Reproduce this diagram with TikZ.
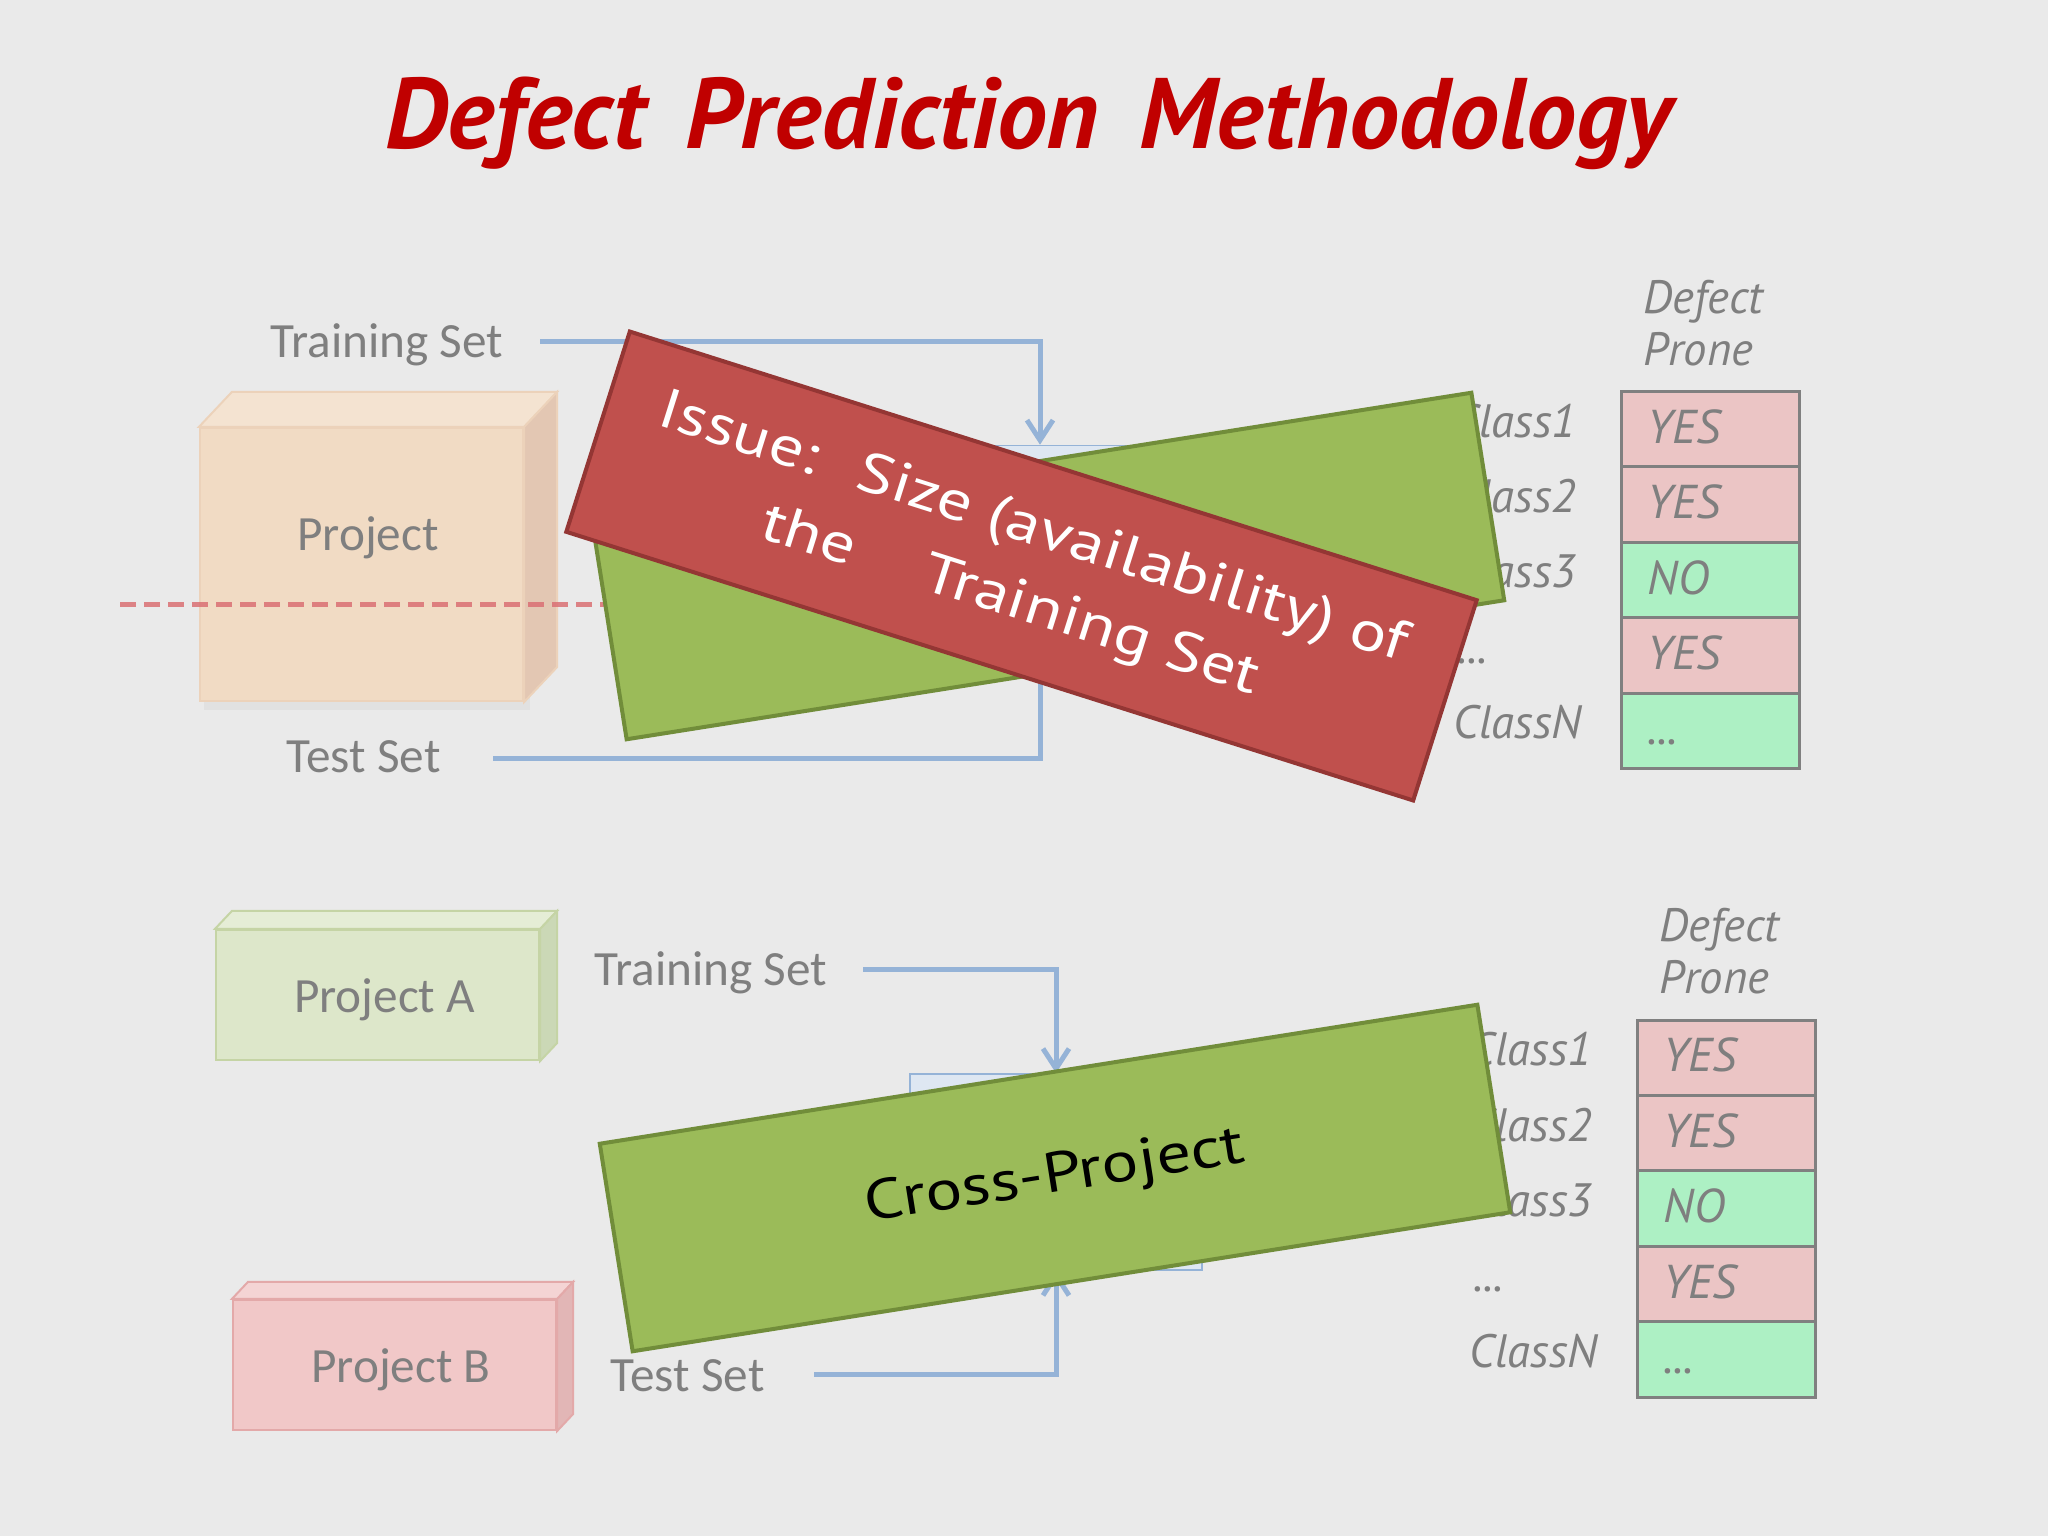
\documentclass[tikz,border=0pt]{standalone}
\usepackage{fontspec}
\setmainfont{Carlito}
\newfontfamily\hand{PT Sans}
\newfontfamily\handwide[FakeStretch=1.22]{PT Sans}
\usetikzlibrary{arrows.meta}
\definecolor{bgc}{RGB}{234,234,234}
\definecolor{txtgray}{RGB}{127,127,127}
\definecolor{titlered}{RGB}{192,0,0}
\definecolor{lineblue}{RGB}{149,179,215}
\definecolor{modelfill}{RGB}{222,231,242}
\definecolor{greenfill}{RGB}{155,187,89}
\definecolor{greenedge}{RGB}{113,141,58}
\definecolor{redfill}{RGB}{192,80,77}
\definecolor{rededge}{RGB}{148,54,52}
\definecolor{cellpink}{RGB}{235,197,197}
\definecolor{cellgreen}{RGB}{173,240,196}
\definecolor{celledge}{RGB}{128,128,128}
\definecolor{dashred}{RGB}{218,112,116}
\definecolor{projfront}{RGB}{241,219,196}
\definecolor{projtop}{RGB}{244,227,209}
\definecolor{projside}{RGB}{227,199,179}
\definecolor{projedge}{RGB}{236,210,186}
\definecolor{pafront}{RGB}{221,231,202}
\definecolor{patop}{RGB}{229,237,214}
\definecolor{paside}{RGB}{203,216,182}
\definecolor{paedge}{RGB}{197,212,165}
\definecolor{pbfront}{RGB}{241,200,200}
\definecolor{pbtop}{RGB}{244,212,212}
\definecolor{pbside}{RGB}{226,182,182}
\definecolor{pbedge}{RGB}{227,169,169}
\tikzset{
  lbl/.style={font=\fontsize{14}{16}\selectfont, text=txtgray, inner sep=0pt},
  hlbl/.style={font=\hand\itshape\fontsize{13.3}{15}\selectfont, text=txtgray, inner sep=0pt},
  conn/.style={draw=lineblue, line width=0.05cm},
  arr/.style={conn, -{Straight Barb[length=0.2cm,width=0.26cm]}},
  cutline/.style={draw=dashred, line width=0.05cm, dash pattern=on 0.16cm off 0.08cm, opacity=0.85},
  modelbox/.style={draw=lineblue, fill=modelfill, line width=0.015cm, minimum width=2.92cm, minimum height=1.97cm, inner sep=0pt},
  banner/.style={minimum width=8.88cm, minimum height=2.1cm, inner sep=0pt, line width=0.04cm},
  greenbanner/.style={banner, fill=greenfill, draw=greenedge, rotate=9},
  redbanner/.style={banner, fill=redfill, draw=rededge, rotate=-17.6},
  front/.style={inner sep=0pt, line width=0.02cm, minimum width=3.23cm},
  facepath/.style={line width=0.02cm},
  cellbox/.style={draw=celledge, line width=0.03cm, minimum width=1.78cm, minimum height=0.754cm,
    inner xsep=0.26cm, inner ysep=0pt, text width=1.26cm, align=left, text height=0.34cm, text depth=0.06cm,
    font=\hand\itshape\fontsize{13.5}{15}\selectfont, text=txtgray, anchor=north west},
}
\newcommand\dtable[3]{%
\begin{scope}[shift={(#1,#2)}]
  \node[hlbl, anchor=base west] (#3h1) at (1643,313) {Defect};
  \node[hlbl, anchor=base west] (#3h2) at (1643,365) {Prone};
  \node[hlbl, anchor=base west] (#3c1) at (1453,437) {Class1};
  \node[hlbl, anchor=base west] (#3c2) at (1453,512.4) {Class2};
  \node[hlbl, anchor=base west] (#3c3) at (1453,587.8) {Class3};
  \node[hlbl, anchor=base west] (#3c4) at (1457,663.2) {...};
  \node[hlbl, anchor=base west] (#3c5) at (1453,738.6) {ClassN};
  \node[cellbox, fill=cellpink] (#3v1) at (1620,390) {YES};
  \node[cellbox, fill=cellpink] (#3v2) at (1620,465.4) {YES};
  \node[cellbox, fill=cellgreen] (#3v3) at (1620,540.8) {NO};
  \node[cellbox, fill=cellpink] (#3v4) at (1620,616.2) {YES};
  \node[cellbox, fill=cellgreen] (#3v5) at (1620,691.6) {...};
\end{scope}}
\begin{document}
\begin{tikzpicture}[x=0.01cm,y=-0.01cm]
\fill[bgc] (0,0) rectangle (2048,1536);
\useasboundingbox (0,0) rectangle (2048,1536);

% title
\node[font=\hand\bfseries\itshape\fontsize{28.5}{32}\selectfont, text=titlered, anchor=base, inner sep=0pt]
  (title) at (1029,148) {Defect\hspace{0.15em} Prediction\hspace{0.15em} Methodology};

% ================= top section =================
\node[modelbox] (modelA) at (1040,544) {};
\coordinate (trainAs) at (540,341);
\coordinate (testAs) at (493,758);
\draw[arr] (trainAs) -| (modelA.north);
\draw[arr] (testAs) -| (modelA.south);

% project cuboid
\fill[black, opacity=0.035] (204,436) rectangle (530,710);
\node[front, fill=projfront, draw=projedge, minimum height=2.73cm] (proj) at (361.5,564.5) {};
\filldraw[facepath, fill=projtop, draw=projedge] (proj.north west) -- ++(33,-35) -- ([shift={(33,-35)}]proj.north east) -- (proj.north east) -- cycle;
\filldraw[facepath, fill=projside, draw=projedge] (proj.north east) -- ++(33,-35) -- ([shift={(33,-35)}]proj.south east) -- (proj.south east) -- cycle;
\node[lbl, anchor=base] (projtxt) at (368,550) {Project};

\coordinate (cutL) at (120,604);
\coordinate (cutR) at (660,604);
\draw[cutline] (cutL) -- (cutR);

\node[lbl, anchor=base west] (trainA) at (270,357) {Training Set};
\node[lbl, anchor=base west] (testA) at (286,772) {Test Set};

\dtable{0}{0}{ta}

\node[greenbanner] (wp) at (1049,566) {};
\node[redbanner, align=center, text=white, font=\handwide\fontsize{16}{21.6}\selectfont]
  (issue) at (1021.5,566) {Issue:~ Size (availability) of\\the~~~ Training Set};

% ================= bottom section =================
\node[modelbox, minimum height=1.96cm] (modelB) at (1056,1172) {};
\coordinate (trainBs) at (863,969);
\coordinate (testBs) at (814,1374);
\draw[arr] (trainBs) -| (modelB.north);
\draw[arr] (testBs) -| (modelB.south);

\node[front, fill=pafront, draw=paedge, minimum height=1.30cm] (pa) at (377.5,995) {};
\filldraw[facepath, fill=patop, draw=paedge] (pa.north west) -- ++(17,-18) -- ([shift={(17,-18)}]pa.north east) -- (pa.north east) -- cycle;
\filldraw[facepath, fill=paside, draw=paedge] (pa.north east) -- ++(17,-18) -- ([shift={(17,-18)}]pa.south east) -- (pa.south east) -- cycle;
\node[lbl, anchor=base] (patxt) at (384.5,1012) {Project A};

\node[front, fill=pbfront, draw=pbedge, minimum height=1.30cm] (pb) at (394.5,1365) {};
\filldraw[facepath, fill=pbtop, draw=pbedge] (pb.north west) -- ++(16,-17) -- ([shift={(16,-17)}]pb.north east) -- (pb.north east) -- cycle;
\filldraw[facepath, fill=pbside, draw=pbedge] (pb.north east) -- ++(16,-17) -- ([shift={(16,-17)}]pb.south east) -- (pb.south east) -- cycle;
\node[lbl, anchor=base] (pbtxt) at (401,1382) {Project B};

\node[lbl, anchor=base west] (trainB) at (594,985) {Training Set};
\node[lbl, anchor=base west] (testB) at (610,1391) {Test Set};

\dtable{16}{628.6}{tb}

\node[greenbanner, text=black, font=\handwide\fontsize{16}{20}\selectfont] (cp) at (1055,1178) {Cross-Project};
\end{tikzpicture}
\end{document}
